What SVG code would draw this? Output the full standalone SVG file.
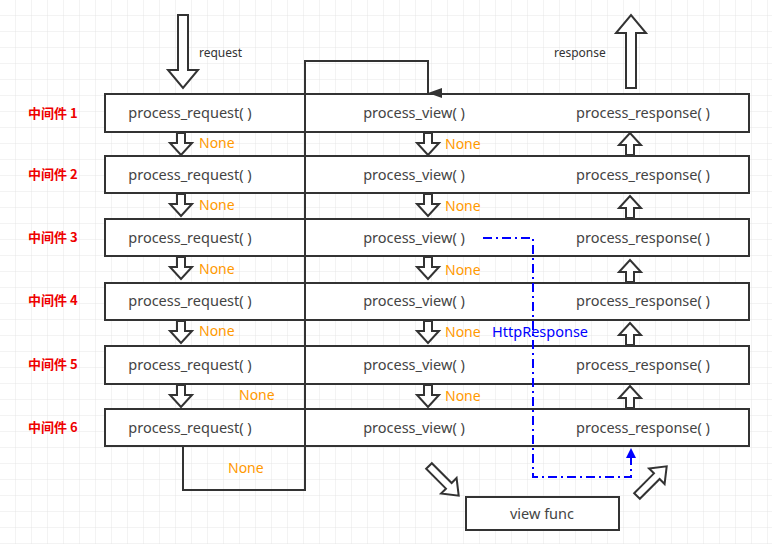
<svg xmlns="http://www.w3.org/2000/svg" width="772" height="544" viewBox="0 0 772 544">
<style>
.box{fill:#fff;stroke:#333;stroke-width:2}
.t{font-family:"Noto Sans","Liberation Sans",sans-serif;font-size:14.5px;fill:#444;text-anchor:middle}
.l{font-family:"Noto Sans","Liberation Sans",sans-serif;font-size:12px;fill:#333}
.n{font-family:"Noto Sans","Liberation Sans",sans-serif;font-size:14px;fill:#f90}
.m{font-family:"Noto Sans CJK SC",sans-serif;font-size:13px;font-weight:bold;fill:#e00}
.ha{fill:#fff;stroke:#333;stroke-width:2;stroke-linejoin:miter}
</style>
<defs>
<pattern id="g" width="16" height="16" patternUnits="userSpaceOnUse"><path d="M16 0V16H0" fill="none" stroke="#e6e6e6" stroke-width="1"/></pattern>
<path id="sd" class="ha" d="M-4,0 h8 v10 h7 l-11,12 l-11,-12 h7 z"/>
<path id="bd" class="ha" d="M-5,0 h10 v55 h10 l-15,18 l-15,-18 h10 z"/>
<path id="dg" class="ha" d="M-4,0 h8 v28 h7 l-11,14 l-11,-14 h7 z"/>
<marker id="ar" markerWidth="12" markerHeight="16" refX="5" refY="14" orient="auto" markerUnits="userSpaceOnUse"><path d="M0,0 L5,14 L10,0 z" fill="#333"/></marker>
<marker id="ab" markerWidth="10" markerHeight="12" refX="9" refY="5" orient="auto" markerUnits="userSpaceOnUse"><path d="M0,0 L10,5 L0,10 z" fill="#00f"/></marker>
</defs>
<rect width="772" height="544" fill="#fff"/>
<rect width="772" height="544" fill="url(#g)"/>
<g id="rows">
<g id="m1"><rect class="box" x="105" y="94" width="644" height="38"/><text class="m" x="28" y="118">中间件 1</text><text class="t" x="190" y="118">process_request( )</text><text class="t" x="414" y="118">process_view( )</text><text class="t" x="643" y="118">process_response( )</text></g>
<g id="m2"><rect class="box" x="105" y="156" width="644" height="37"/><text class="m" x="28" y="179">中间件 2</text><text class="t" x="190" y="180">process_request( )</text><text class="t" x="414" y="180">process_view( )</text><text class="t" x="643" y="180">process_response( )</text></g>
<g id="m3"><rect class="box" x="105" y="219" width="644" height="37"/><text class="m" x="28" y="242">中间件 3</text><text class="t" x="190" y="243">process_request( )</text><text class="t" x="414" y="243">process_view( )</text><text class="t" x="643" y="243">process_response( )</text></g>
<g id="m4"><rect class="box" x="105" y="283" width="644" height="37"/><text class="m" x="28" y="305">中间件 4</text><text class="t" x="190" y="306">process_request( )</text><text class="t" x="414" y="306">process_view( )</text><text class="t" x="643" y="306">process_response( )</text></g>
<g id="m5"><rect class="box" x="105" y="346" width="644" height="38"/><text class="m" x="28" y="369">中间件 5</text><text class="t" x="190" y="370">process_request( )</text><text class="t" x="414" y="370">process_view( )</text><text class="t" x="643" y="370">process_response( )</text></g>
<g id="m6"><rect class="box" x="105" y="409" width="644" height="37"/><text class="m" x="28" y="432">中间件 6</text><text class="t" x="190" y="433">process_request( )</text><text class="t" x="414" y="433">process_view( )</text><text class="t" x="643" y="433">process_response( )</text></g>
</g>
<g id="viewfunc"><rect class="box" x="466" y="497" width="153" height="33"/><text class="t" x="542" y="519">view func</text></g>
<g id="connectors">
<use href="#bd" x="183" y="15"/>
<use href="#bd" transform="translate(631,88) rotate(180)"/>
<text class="l" x="199" y="57">request</text>
<text class="l" x="554" y="57">response</text>
<polyline points="183,446 183,490 305,490 305,61 428,61 428,93" fill="none" stroke="#333" stroke-width="2" marker-end="url(#ar)"/>
<g>
<use href="#sd" x="181" y="133"/><use href="#sd" x="181" y="194"/><use href="#sd" x="181" y="257"/><use href="#sd" x="181" y="321"/><use href="#sd" x="181" y="385"/>
<use href="#sd" x="428" y="133"/><use href="#sd" x="428" y="194"/><use href="#sd" x="428" y="257"/><use href="#sd" x="428" y="321"/><use href="#sd" x="428" y="385"/>
<use href="#sd" transform="translate(630,155) rotate(180)"/><use href="#sd" transform="translate(630,218) rotate(180)"/><use href="#sd" transform="translate(630,282) rotate(180)"/><use href="#sd" transform="translate(630,345) rotate(180)"/><use href="#sd" transform="translate(630,408) rotate(180)"/>
</g>
<text class="n" x="199" y="148">None</text><text class="n" x="199" y="210">None</text><text class="n" x="199" y="274">None</text><text class="n" x="199" y="336">None</text><text class="n" x="239" y="400">None</text><text class="n" x="228" y="473">None</text>
<text class="n" x="445" y="149">None</text><text class="n" x="445" y="211">None</text><text class="n" x="445" y="275">None</text><text class="n" x="445" y="337">None</text><text class="n" x="445" y="401">None</text>
<use href="#dg" transform="translate(429,466) rotate(-45)"/>
<use href="#dg" transform="translate(637,496) rotate(-135)"/>
<polyline points="483,238 533,238 533,477 631,477 631,449" fill="none" stroke="#00f" stroke-width="2" stroke-dasharray="9,4,2,4" marker-end="url(#ab)"/>
<text x="492" y="337" font-family="Noto Sans,Liberation Sans,sans-serif" font-size="14.5" fill="#00f">HttpResponse</text>
</g>
</svg>
